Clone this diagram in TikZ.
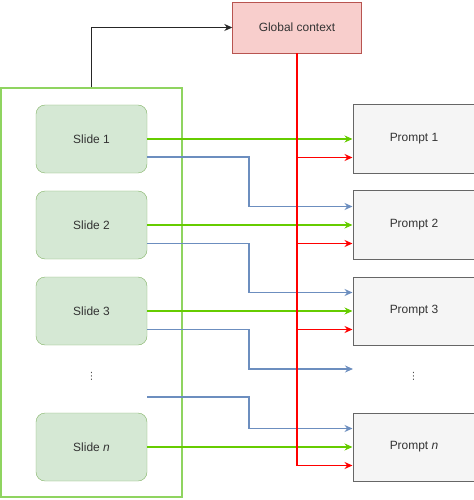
\documentclass[tikz,border=0pt]{standalone}
\usepackage{fontspec}
\setmainfont{Liberation Sans}
\newfontfamily\dotsfont{DejaVu Sans}
\usetikzlibrary{calc,positioning,arrows.meta}

\definecolor{slidefill}{HTML}{D5E8D4}
\definecolor{slideline}{HTML}{82B366}
\definecolor{deckline}{HTML}{8FD460}
\definecolor{promptfill}{HTML}{F5F5F5}
\definecolor{promptline}{HTML}{666666}
\definecolor{ctxfill}{HTML}{F8CECC}
\definecolor{ctxline}{HTML}{B85450}
\definecolor{arrgreen}{HTML}{66CC00}
\definecolor{arrblue}{HTML}{6C8EBF}
\definecolor{arrred}{HTML}{FF0000}

\begin{document}
\begin{tikzpicture}[x=1bp, y=-1bp,
  every node/.style={font=\fontsize{12}{14}\selectfont, text=black!80, inner sep=0pt},
  slide/.style={draw=slideline, fill=slidefill, rounded corners=9bp, minimum width=111bp, minimum height=68bp},
  prompt/.style={draw=promptline, fill=promptfill, line width=1bp, minimum width=122bp, minimum height=68bp},
  dotsbox/.style={font=\dotsfont\fontsize{10}{12}\selectfont, text=black!70},
  tip/.style={-{Stealth[length=8bp, width=7bp]}},
  green arr/.style={tip, draw=arrgreen, line width=1.4bp},
  blue arr/.style={tip, draw=arrblue, line width=1.4bp},
  red line/.style={draw=arrred, line width=1.6bp},
  red arr/.style={tip, red line, line width=1.8bp}]
\useasboundingbox (0,0) rectangle (474,500);

% global context and slide deck
\node[draw=ctxline, fill=ctxfill, minimum width=129bp, minimum height=51bp] (ctx) at (297,27.5) {Global context};
\node[draw=deckline, line width=1.4bp, minimum width=181bp, minimum height=409bp] (deck) at (91.5,292.5) {};
\draw[tip, line width=1bp, black!85] (deck.north) |- (ctx.west);

% slides and prompts
\node[slide] (s1) at (91.5,139) {Slide 1};
\node[slide] (s2) at (91.5,225) {Slide 2};
\node[slide] (s3) at (91.5,311) {Slide 3};
\node[slide] (sn) at (91.5,447) {Slide \textit{n}};
\node[dotsbox] (sdots) at (91.5,376) {⋮};

\node[prompt] (p1) at (414,139) {Prompt 1};
\node[prompt] (p2) at (414,225) {Prompt 2};
\node[prompt] (p3) at (414,311) {Prompt 3};
\node[prompt] (pn) at (414,447) {Prompt \textit{n}};
\node[dotsbox] (pdots) at (413.5,376) {⋮};

\coordinate (bend) at (249,0);
\coordinate (rail) at (ctx.south);
\coordinate (pgap) at (353,369);
\coordinate (sgap) at (147,397);
\coordinate (railend) at ($(pn.south west)+(0,-16)$);

%slide to own prompt
\foreach \s/\p in {s1/p1, s2/p2, s3/p3, sn/pn}{
  \draw[green arr] (\s.east) -- (\p.west);
}

%slide to next prompt
\foreach \s/\p in {s1/p2, s2/p3}{
  \draw[blue arr] ($(\s.south east)+(0,-16)$) -| (bend |- {$(\p.north west)+(0,16)$}) -- ($(\p.north west)+(0,16)$);
}
\draw[blue arr] ($(s3.south east)+(0,-16)$) -| (bend |- pgap) -- (pgap);
\draw[blue arr] (sgap) -| (bend |- {$(pn.north west)+(0,16)$}) -- ($(pn.north west)+(0,16)$);

%global context to every prompt
\draw[red line] (rail) -- (rail |- railend);
\draw[red arr] (rail |- railend) -- (railend);
\foreach \p in {p1, p2, p3}{
  \draw[red arr] (rail |- {$(\p.south west)+(0,-16)$}) -- ($(\p.south west)+(0,-16)$);
}
\end{tikzpicture}
\end{document}
